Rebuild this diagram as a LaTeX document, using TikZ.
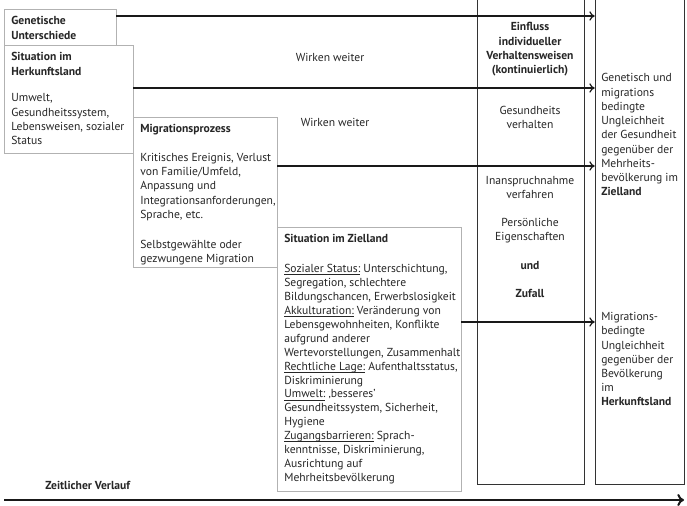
\documentclass[tikz,border=0pt]{standalone}
\usepackage{fontspec}
\setmainfont{PT Sans}
\usetikzlibrary{fit,arrows.meta}
\newcommand{\unter}[1]{\underline{\smash{#1}}}

\begin{document}
\begin{tikzpicture}[x=0.75pt, y=-0.75pt,
  every node/.style={font=\fontsize{8.7}{10.85}\selectfont, text=black!85},
  kasten/.style={rectangle, draw=black!30, fill=white, inner sep=0pt},
  spalte/.style={rectangle, draw=black!80, inner sep=0pt},
  inhalt/.style={anchor=north west, align=left, inner xsep=5.5pt, inner ysep=5.5pt},
  mitte/.style={anchor=north, align=center, inner sep=0pt},
  pfeil/.style={draw=black!90, line width=0.9pt, -{To[length=4pt,width=7pt]}},
  zeitachse/.style={draw=black!90, line width=1.5pt, -{To[length=5pt,width=9pt]}}
]
\useasboundingbox (0,0) rectangle (687,506);
% Spalten rechts
\node[spalte, fit={(477,-3) (584,484)}] (einfluss) {};
\node[spalte, fit={(595,-3) (684,484)}] (ziel) {};
\node[mitte] (einflusstitel) at (530,22) {\textbf{Einfluss}\\\textbf{individueller}\\\textbf{Verhaltensweisen}\\\textbf{(kontinuierlich)}};
\node[mitte] (verhalten) at (530,106) {Gesundheits\\verhalten};
\node[mitte] (inanspruch) at (530,176) {Inanspruchnahme\\verfahren};
\node[mitte] (eigen) at (530,218) {Persönliche\\Eigenschaften};
\node[mitte] (und) at (530,261) {\textbf{und}};
\node[mitte] (zufall) at (530,289) {\textbf{Zufall}};
\node[inhalt, inner xsep=0pt, font=\fontsize{8.7}{10.7}\selectfont] (zieltext) at (601,66) {Genetisch und\\migrations\\bedingte\\Ungleichheit\\der Gesundheit\\gegenüber der\\Mehrheits-\\bevölkerung im\\\textbf{Zielland}};
\node[inhalt, inner xsep=0pt, font=\fontsize{8.7}{10.6}\selectfont] (herkunfttext) at (601,305) {Migrations-\\bedingte\\Ungleichheit\\gegenüber der\\Bevölkerung\\im\\\textbf{Herkunftsland}};
% Kaesten links
\node[kasten, fit={(4,9) (116,45)}] (genetik) {};
\node[inhalt] (genetiktext) at (genetik.north west) {\textbf{Genetische}\\\textbf{Unterschiede}};
\node[kasten, fit={(4,45) (133,153)}] (herkunft) {};
\node[inhalt] (herkunftinhalt) at (herkunft.north west) {\textbf{Situation im}\\\textbf{Herkunftsland}\\[9pt]Umwelt,\\Gesundheitssystem,\\Lebensweisen, sozialer\\Status};
\node[kasten, fit={(133,117) (277,267)}] (migration) {};
\node[inhalt] (migrationinhalt) at (migration.north west) {\textbf{Migrationsprozess}\\[10.5pt]Kritisches Ereignis, Verlust\\von Familie/Umfeld,\\Anpassung und\\Integrationsanforderungen,\\Sprache, etc.\\[11pt]Selbstgewählte oder\\gezwungene Migration};
\node[kasten, fit={(277,227) (461,491)}] (zielland) {};
\node[inhalt, font=\fontsize{8.7}{10.45}\selectfont] (ziellandinhalt) at (zielland.north west) {\textbf{Situation im Zielland}\\[12pt]%
\unter{Sozialer Status:} Unterschichtung,\\Segregation, schlechtere\\Bildungschancen, Erwerbslosigkeit\\%
\unter{Akkulturation:} Veränderung von\\Lebensgewohnheiten, Konflikte\\aufgrund anderer\\Wertevorstellungen, Zusammenhalt\\%
\unter{Rechtliche Lage:} Aufenthaltsstatus,\\Diskriminierung\\%
\unter{Umwelt:} ‚besseres’\\Gesundheitssystem, Sicherheit,\\Hygiene\\%
\unter{Zugangsbarrieren:} Sprach-\\kenntnisse, Diskriminierung,\\Ausrichtung auf\\Mehrheitsbevölkerung};
% Pfeile
\draw[pfeil] (genetik.east |- 0,16) -- (ziel.west |- 0,16);
\draw[pfeil] (herkunft.east |- 0,88) -- (ziel.west |- 0,88);
\draw[pfeil] (migration.east |- 0,166) -- (ziel.west |- 0,166);
\draw[pfeil] (zielland.east |- 0,322) -- (ziel.west |- 0,322);
\node (wirken1) at (330,57) {Wirken weiter};
\node (wirken2) at (335,122) {Wirken weiter};
% Zeitachse
\coordinate (anfang) at (4,500);
\coordinate (ende) at (684,500);
\draw[zeitachse] (anfang) -- (ende);
\node (zeit) at (88,485) {\textbf{Zeitlicher Verlauf}};
\end{tikzpicture}
\end{document}
